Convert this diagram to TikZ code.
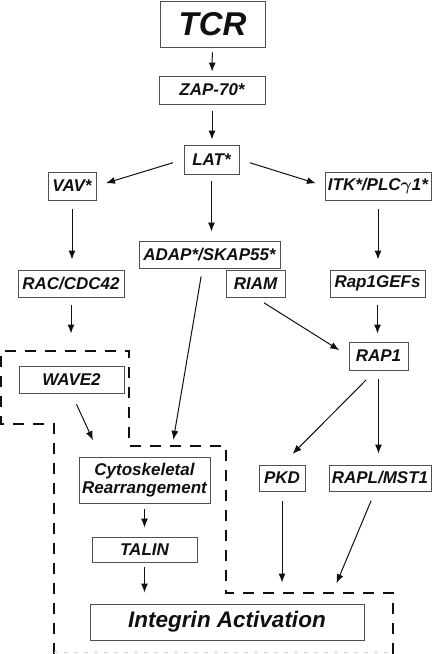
\documentclass[tikz,border=0pt]{standalone}
\usepackage{amsmath}
\usepackage{fontspec}
\setmainfont{Liberation Sans}
\usetikzlibrary{arrows.meta}
\definecolor{ink}{HTML}{101010}
\definecolor{frame}{HTML}{505050}

\begin{document}
\begin{tikzpicture}[x=1pt,y=-1pt,>={Latex[length=9pt,width=7pt]},
  box/.style={draw=frame,line width=0.9pt,inner sep=0pt,text=ink,align=center,
    font=\fontsize{17}{18.5}\selectfont\bfseries\itshape},
  link/.style={->,line width=1pt,ink},
  region/.style={line width=1.8pt,ink,dash pattern=on 11pt off 9pt}]
\useasboundingbox (0,0) rectangle (432,654);
% signalling boxes
\node[box,minimum width=105pt,minimum height=46pt,font=\fontsize{33}{33}\selectfont\bfseries\itshape] (tcr) at (212.5,24) {TCR};
\node[box,minimum width=106pt,minimum height=28pt] (zap) at (212,90) {ZAP-70*};
\node[box,minimum width=55pt,minimum height=29pt] (lat) at (211.5,159.5) {LAT*};
\node[box,minimum width=48pt,minimum height=28pt] (vav) at (72,186) {VAV*};
\node[box,minimum width=106pt,minimum height=28pt] (itk) at (378,186) {ITK*/PLC$\boldsymbol{\gamma}$1*};
\node[box,minimum width=141pt,minimum height=27pt] (adap) at (209.5,254.5) {ADAP*/SKAP55*};
\node[box,minimum width=59pt,minimum height=27pt] (riam) at (255.5,283.5) {RIAM};
\node[box,minimum width=95pt,minimum height=27pt] (gefs) at (377.5,283.5) {Rap1GEFs};
\node[box,minimum width=106pt,minimum height=27pt] (rac) at (71,283.5) {RAC/CDC42};
\node[box,minimum width=59pt,minimum height=28pt] (rap1) at (378.5,356) {RAP1};
\node[box,minimum width=105pt,minimum height=27pt] (wave) at (71.5,379.5) {WAVE2};
\node[box,minimum width=131pt,minimum height=46pt] (cyto) at (144.5,480) {Cytoskeletal\\Rearrangement};
\node[box,minimum width=46pt,minimum height=26pt] (pkd) at (282,478) {PKD};
\node[box,minimum width=102pt,minimum height=26pt] (rapl) at (380,478) {RAPL/MST1};
\node[box,minimum width=105pt,minimum height=25pt] (talin) at (144.5,549.5) {TALIN};
\node[box,minimum width=274pt,minimum height=36pt,font=\fontsize{22.5}{24}\selectfont\bfseries\itshape] (integ) at (227,622) {Integrin Activation};
% arrows
\draw[link,shorten <=5pt,shorten >=4pt] (tcr) -- (zap);
\draw[link,shorten <=7pt,shorten >=5pt] (zap.south) -- (zap.south |- lat.north);
\draw[link,shorten <=11pt,shorten >=10pt] (lat.west) -- (vav.east);
\draw[link,shorten <=11pt,shorten >=9pt] (lat.east) -- (itk.west);
\draw[link,shorten <=7pt,shorten >=9pt] (lat.south) -- (lat.south |- adap.north);
\draw[link,shorten <=9pt,shorten >=10pt] (vav.south) -- (vav.south |- rac.north);
\draw[link,shorten <=9pt,shorten >=10pt] (itk.south) -- (itk.south |- gefs.north);
\draw[link,shorten <=8pt,shorten >=32pt] (rac.south) -- (rac.south |- wave.north);
\draw[link,shorten <=8pt,shorten >=8pt] (gefs.south) -- (gefs.south |- rap1.north);
\draw[link,shorten <=10pt,shorten >=11pt] (riam.south) -- (rap1.west);
\draw[link,shorten <=8pt,shorten >=17pt] ([xshift=-7pt]adap.south) -- ([xshift=26pt]cyto.north);
\draw[link,shorten <=12pt,shorten >=18pt] (wave.south) -- ([xshift=-44pt]cyto.north);
\draw[link,shorten <=13pt,shorten >=15pt] ([xshift=-3pt]rap1.south) -- (pkd.north);
\draw[link,shorten <=9pt,shorten >=11pt] (rap1.south) -- (rap1.south |- rapl.north);
\draw[link,shorten <=6pt,shorten >=9pt] (cyto.south) -- (cyto.south |- talin.north);
\draw[link,shorten <=5pt,shorten >=11pt] (talin.south) -- (talin.south |- integ.north);
\draw[link,shorten <=10pt,shorten >=21pt] (pkd.south) -- (pkd.south |- integ.north);
\draw[link,shorten <=10pt,shorten >=22pt] ([xshift=-5pt]rapl.south) -- ([xshift=101pt]integ.north);
% dashed region
\draw[region] (54,654) -- (54,424) -- (1,424) -- (1,351) -- (129,351) -- (129,446)
  -- (226,446) -- (226,593) -- (393,593) -- (393,654);
\draw[gray!35,line width=1pt,dash pattern=on 4pt off 6pt] (54,652) -- (393,652);
\end{tikzpicture}
\end{document}
